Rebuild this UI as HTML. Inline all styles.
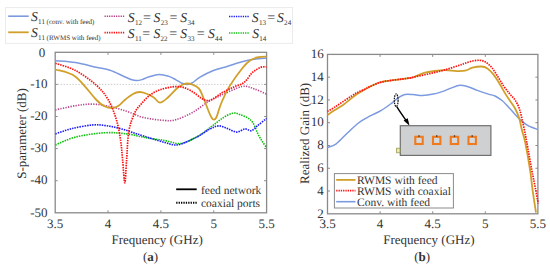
<!DOCTYPE html>
<html><head><meta charset="utf-8"><style>
html,body{margin:0;padding:0;background:#fff;}
svg{display:block;} text{text-rendering:geometricPrecision;}
</style></head><body>
<svg width="550" height="268" viewBox="0 0 550 268">
<rect width="550" height="268" fill="#fff"/>
<line x1="57.7" y1="84.40" x2="264.1" y2="84.40" stroke="#c4c4c4" stroke-width="0.9" stroke-dasharray="1.4 1.55"/>
<rect x="55.2" y="52.3" width="211.40" height="160.50" fill="none" stroke="#8a8a8a" stroke-width="1.3"/>
<line x1="108.05" y1="212.8" x2="108.05" y2="210.3" stroke="#8a8a8a" stroke-width="1"/>
<line x1="108.05" y1="52.3" x2="108.05" y2="54.8" stroke="#8a8a8a" stroke-width="1"/>
<line x1="160.90" y1="212.8" x2="160.90" y2="210.3" stroke="#8a8a8a" stroke-width="1"/>
<line x1="160.90" y1="52.3" x2="160.90" y2="54.8" stroke="#8a8a8a" stroke-width="1"/>
<line x1="213.75" y1="212.8" x2="213.75" y2="210.3" stroke="#8a8a8a" stroke-width="1"/>
<line x1="213.75" y1="52.3" x2="213.75" y2="54.8" stroke="#8a8a8a" stroke-width="1"/>
<line x1="55.2" y1="84.40" x2="57.7" y2="84.40" stroke="#8a8a8a" stroke-width="1"/>
<line x1="266.6" y1="84.40" x2="264.1" y2="84.40" stroke="#8a8a8a" stroke-width="1"/>
<line x1="55.2" y1="116.50" x2="57.7" y2="116.50" stroke="#8a8a8a" stroke-width="1"/>
<line x1="266.6" y1="116.50" x2="264.1" y2="116.50" stroke="#8a8a8a" stroke-width="1"/>
<line x1="55.2" y1="148.60" x2="57.7" y2="148.60" stroke="#8a8a8a" stroke-width="1"/>
<line x1="266.6" y1="148.60" x2="264.1" y2="148.60" stroke="#8a8a8a" stroke-width="1"/>
<line x1="55.2" y1="180.70" x2="57.7" y2="180.70" stroke="#8a8a8a" stroke-width="1"/>
<line x1="266.6" y1="180.70" x2="264.1" y2="180.70" stroke="#8a8a8a" stroke-width="1"/>
<path d="M55.50,144.90 C58.83,143.60 67.38,139.12 75.50,137.10 C83.62,135.08 95.65,133.33 104.20,132.80 C112.75,132.27 119.62,133.03 126.80,133.90 C133.98,134.77 140.93,136.90 147.30,138.00 C153.67,139.10 159.47,139.58 165.00,140.50 C170.53,141.42 175.18,144.10 180.50,143.50 C185.82,142.90 191.77,139.70 196.90,136.90 C202.03,134.10 207.12,129.77 211.30,126.70 C215.48,123.63 218.43,120.75 222.00,118.50 C225.57,116.25 229.70,113.85 232.70,113.20 C235.70,112.55 237.50,113.82 240.00,114.60 C242.50,115.38 245.78,116.83 247.70,117.90 C249.62,118.97 250.35,119.67 251.50,121.00 C252.65,122.33 253.52,123.73 254.60,125.90 C255.68,128.07 256.77,131.48 258.00,134.00 C259.23,136.52 260.58,138.73 262.00,141.00 C263.42,143.27 265.75,146.50 266.50,147.60" fill="none" stroke="#10c010" stroke-width="1.6" stroke-dasharray="1.5 1" stroke-linejoin="round"/>
<path d="M55.50,133.90 C58.15,133.03 65.32,130.18 71.40,128.70 C77.48,127.22 86.18,125.50 92.00,125.00 C97.82,124.50 101.52,125.08 106.30,125.70 C111.08,126.32 115.57,127.33 120.70,128.70 C125.83,130.07 129.72,131.58 137.10,133.90 C144.48,136.22 158.10,140.80 165.00,142.60 C171.90,144.40 173.18,145.65 178.50,144.70 C183.82,143.75 191.65,139.52 196.90,136.90 C202.15,134.28 206.30,130.83 210.00,129.00 C213.70,127.17 216.10,125.93 219.10,125.90 C222.10,125.87 225.05,127.77 228.00,128.80 C230.95,129.83 233.97,132.08 236.80,132.10 C239.63,132.12 242.58,129.13 245.00,128.90 C247.42,128.67 249.25,131.20 251.30,130.70 C253.35,130.20 254.77,127.95 257.30,125.90 C259.83,123.85 264.97,119.65 266.50,118.40" fill="none" stroke="#1a1aff" stroke-width="1.6" stroke-dasharray="1.5 1" stroke-linejoin="round"/>
<path d="M55.50,109.90 C58.83,109.20 69.42,106.67 75.50,105.70 C81.58,104.73 86.52,104.02 92.00,104.10 C97.48,104.18 102.60,105.00 108.40,106.20 C114.20,107.40 121.00,109.43 126.80,111.30 C132.60,113.17 136.83,115.87 143.20,117.40 C149.57,118.93 159.47,120.15 165.00,120.50 C170.53,120.85 171.77,120.87 176.40,119.50 C181.03,118.13 187.32,115.38 192.80,112.30 C198.28,109.22 204.50,103.87 209.30,101.00 C214.10,98.13 216.13,97.52 221.60,95.10 C227.07,92.68 236.63,87.52 242.10,86.50 C247.57,85.48 250.33,87.73 254.40,89.00 C258.47,90.27 264.48,93.25 266.50,94.10" fill="none" stroke="#b8408a" stroke-width="1.6" stroke-dasharray="1.25 1.3" stroke-linejoin="round"/>
<path d="M55.50,60.70 C58.83,61.00 68.75,61.42 75.50,62.50 C82.25,63.58 90.25,65.90 96.00,67.20 C101.75,68.50 105.50,68.83 110.00,70.30 C114.50,71.77 119.50,74.47 123.00,76.00 C126.50,77.53 128.75,78.73 131.00,79.50 C133.25,80.27 134.67,80.58 136.50,80.60 C138.33,80.62 140.00,80.20 142.00,79.60 C144.00,79.00 145.65,77.87 148.50,77.00 C151.35,76.13 155.70,74.50 159.10,74.40 C162.50,74.30 166.08,75.50 168.90,76.40 C171.72,77.30 173.82,78.65 176.00,79.80 C178.18,80.95 180.17,82.53 182.00,83.30 C183.83,84.07 185.33,84.45 187.00,84.40 C188.67,84.35 189.83,84.20 192.00,83.00 C194.17,81.80 196.43,79.28 200.00,77.20 C203.57,75.12 208.78,72.33 213.40,70.50 C218.02,68.67 222.93,67.67 227.70,66.20 C232.47,64.73 237.55,62.87 242.00,61.70 C246.45,60.53 250.32,59.78 254.40,59.20 C258.48,58.62 264.48,58.37 266.50,58.20" fill="none" stroke="#7c9ae0" stroke-width="1.5" stroke-linejoin="round"/>
<path d="M55.50,69.50 C58.83,70.70 68.75,71.70 75.50,76.70 C82.25,81.70 91.25,94.62 96.00,99.50 C100.75,104.38 101.25,104.55 104.00,106.00 C106.75,107.45 110.00,108.28 112.50,108.20 C115.00,108.12 116.95,106.87 119.00,105.50 C121.05,104.13 122.47,101.92 124.80,100.00 C127.13,98.08 130.55,95.33 133.00,94.00 C135.45,92.67 137.33,92.08 139.50,92.00 C141.67,91.92 143.67,92.63 146.00,93.50 C148.33,94.37 151.17,95.68 153.50,97.20 C155.83,98.72 157.55,102.60 160.00,102.60 C162.45,102.60 165.20,99.72 168.20,97.20 C171.20,94.68 175.15,89.75 178.00,87.50 C180.85,85.25 182.97,84.20 185.30,83.70 C187.63,83.20 189.72,83.68 192.00,84.50 C194.28,85.32 196.98,86.10 199.00,88.60 C201.02,91.10 202.52,95.77 204.10,99.50 C205.68,103.23 207.27,108.00 208.50,111.00 C209.73,114.00 210.62,116.07 211.50,117.50 C212.38,118.93 213.00,119.60 213.80,119.60 C214.60,119.60 215.43,119.18 216.30,117.50 C217.17,115.82 217.95,112.42 219.00,109.50 C220.05,106.58 220.80,103.93 222.60,100.00 C224.40,96.07 226.55,91.15 229.80,85.90 C233.05,80.65 238.68,72.77 242.10,68.50 C245.52,64.23 247.57,62.18 250.30,60.30 C253.03,58.42 255.80,57.82 258.50,57.20 C261.20,56.58 265.17,56.70 266.50,56.60" fill="none" stroke="#d1a02a" stroke-width="1.8" stroke-linejoin="round"/>
<path d="M55.50,63.30 C58.83,64.50 68.75,66.90 75.50,70.50 C82.25,74.10 90.52,79.98 96.00,84.90 C101.48,89.82 104.97,94.07 108.40,100.00 C111.83,105.93 114.55,113.67 116.60,120.50 C118.65,127.33 119.70,134.42 120.70,141.00 C121.70,147.58 121.92,153.03 122.60,160.00 C123.28,166.97 124.13,182.80 124.80,182.80 C125.47,182.80 125.92,168.67 126.60,160.00 C127.28,151.33 127.50,138.75 128.90,130.80 C130.30,122.85 132.95,116.77 135.00,112.30 C137.05,107.83 138.70,106.88 141.20,104.00 C143.70,101.12 146.87,97.37 150.00,95.00 C153.13,92.63 156.28,91.15 160.00,89.80 C163.72,88.45 168.53,87.33 172.30,86.90 C176.07,86.47 179.18,86.35 182.60,87.20 C186.02,88.05 189.73,90.20 192.80,92.00 C195.87,93.80 198.72,96.58 201.00,98.00 C203.28,99.42 204.75,100.20 206.50,100.50 C208.25,100.80 208.98,101.03 211.50,99.80 C214.02,98.57 217.87,95.25 221.60,93.10 C225.33,90.95 230.15,88.67 233.90,86.90 C237.65,85.13 241.03,84.88 244.10,82.50 C247.17,80.12 249.55,75.12 252.30,72.60 C255.05,70.08 258.23,68.37 260.60,67.40 C262.97,66.43 265.52,66.90 266.50,66.80" fill="none" stroke="#ff1010" stroke-width="1.7" stroke-dasharray="1.5 1" stroke-linejoin="round"/>
<text x="45.3" y="56.90" font-family="Liberation Serif" font-size="13" text-anchor="end" fill="#333333">0</text>
<text x="47.6" y="88.10" font-family="Liberation Serif" font-size="13" text-anchor="end" fill="#333333">-10</text>
<text x="47.6" y="120.20" font-family="Liberation Serif" font-size="13" text-anchor="end" fill="#333333">-20</text>
<text x="47.6" y="152.30" font-family="Liberation Serif" font-size="13" text-anchor="end" fill="#333333">-30</text>
<text x="47.6" y="184.40" font-family="Liberation Serif" font-size="13" text-anchor="end" fill="#333333">-40</text>
<text x="47.6" y="216.50" font-family="Liberation Serif" font-size="13" text-anchor="end" fill="#333333">-50</text>
<text x="55.20" y="228.3" font-family="Liberation Serif" font-size="13" text-anchor="middle" fill="#333333">3.5</text>
<text x="108.05" y="228.3" font-family="Liberation Serif" font-size="13" text-anchor="middle" fill="#333333">4</text>
<text x="160.90" y="228.3" font-family="Liberation Serif" font-size="13" text-anchor="middle" fill="#333333">4.5</text>
<text x="213.75" y="228.3" font-family="Liberation Serif" font-size="13" text-anchor="middle" fill="#333333">5</text>
<text x="266.60" y="228.3" font-family="Liberation Serif" font-size="13" text-anchor="middle" fill="#333333">5.5</text>
<text x="157.1" y="243.8" font-family="Liberation Serif" font-size="13" text-anchor="middle" fill="#333333">Frequency (GHz)</text>
<text x="150.6" y="260.9" font-family="Liberation Serif" font-size="13" text-anchor="middle" fill="#333333">(<tspan font-weight="bold">a</tspan>)</text>
<text transform="translate(26,133.5) rotate(-90)" font-family="Liberation Serif" font-size="13" text-anchor="middle" fill="#333333">S-parameter (dB)</text>
<line x1="176.2" y1="189.3" x2="196.7" y2="189.3" stroke="#000" stroke-width="1.8"/>
<line x1="176.2" y1="202.8" x2="196.7" y2="202.8" stroke="#000" stroke-width="1.9" stroke-dasharray="1.3 1.1"/>
<text x="201" y="193.6" font-family="Liberation Serif" font-size="11.5" fill="#333333">feed network</text>
<text x="201" y="206.6" font-family="Liberation Serif" font-size="11.5" fill="#333333">coaxial ports</text>
<rect x="5.5" y="7.6" width="287" height="35.8" fill="none" stroke="#ebebeb" stroke-width="1"/>
<line x1="8.2" y1="16.2" x2="28.7" y2="16.2" stroke="#7c9ae0" stroke-width="1.6"/>
<line x1="8.2" y1="32.3" x2="28.7" y2="32.3" stroke="#d1a02a" stroke-width="1.8"/>
<line x1="104.5" y1="16.3" x2="124.5" y2="16.3" stroke="#b8408a" stroke-width="1.5" stroke-dasharray="1.3 1"/>
<line x1="104.5" y1="32.6" x2="124.5" y2="32.6" stroke="#ff1010" stroke-width="1.6" stroke-dasharray="1.3 1"/>
<line x1="229" y1="16.4" x2="249" y2="16.4" stroke="#1a1aff" stroke-width="1.5" stroke-dasharray="1.3 1"/>
<line x1="229" y1="33" x2="249" y2="33" stroke="#10c010" stroke-width="1.5" stroke-dasharray="1.3 1"/>
<text x="31.00" y="21.00" font-family="Liberation Serif" font-style="italic" font-size="13.6" fill="#333333">S</text><text x="38.10" y="23.90" font-family="Liberation Serif" font-size="7.1" fill="#333333">11</text>
<text x="46.6" y="23.90" font-family="Liberation Serif" font-size="7.05" fill="#333333">(conv. with feed)</text>
<text x="31.00" y="37.20" font-family="Liberation Serif" font-style="italic" font-size="13.6" fill="#333333">S</text><text x="38.10" y="40.10" font-family="Liberation Serif" font-size="7.1" fill="#333333">11</text>
<text x="46.6" y="40.10" font-family="Liberation Serif" font-size="7.05" fill="#333333">(RWMS with feed)</text>
<text x="127.80" y="22.10" font-family="Liberation Serif" font-style="italic" font-size="13.6" fill="#333333">S</text><text x="134.90" y="25.00" font-family="Liberation Serif" font-size="7.1" fill="#333333">12</text>
<text x="143.00" y="22.10" font-family="Liberation Serif" font-size="14" fill="#333333">=</text>
<text x="153.60" y="22.10" font-family="Liberation Serif" font-style="italic" font-size="13.6" fill="#333333">S</text><text x="160.70" y="25.00" font-family="Liberation Serif" font-size="7.1" fill="#333333">23</text>
<text x="169.40" y="22.10" font-family="Liberation Serif" font-size="14" fill="#333333">=</text>
<text x="180.30" y="22.10" font-family="Liberation Serif" font-style="italic" font-size="13.6" fill="#333333">S</text><text x="187.40" y="25.00" font-family="Liberation Serif" font-size="7.1" fill="#333333">34</text>
<text x="127.80" y="38.30" font-family="Liberation Serif" font-style="italic" font-size="13.6" fill="#333333">S</text><text x="134.90" y="41.20" font-family="Liberation Serif" font-size="7.1" fill="#333333">11</text>
<text x="142.20" y="38.30" font-family="Liberation Serif" font-size="14" fill="#333333">=</text>
<text x="153.40" y="38.30" font-family="Liberation Serif" font-style="italic" font-size="13.6" fill="#333333">S</text><text x="160.50" y="41.20" font-family="Liberation Serif" font-size="7.1" fill="#333333">22</text>
<text x="169.20" y="38.30" font-family="Liberation Serif" font-size="14" fill="#333333">=</text>
<text x="180.30" y="38.30" font-family="Liberation Serif" font-style="italic" font-size="13.6" fill="#333333">S</text><text x="187.40" y="41.20" font-family="Liberation Serif" font-size="7.1" fill="#333333">33</text>
<text x="196.80" y="38.30" font-family="Liberation Serif" font-size="14" fill="#333333">=</text>
<text x="208.00" y="38.30" font-family="Liberation Serif" font-style="italic" font-size="13.6" fill="#333333">S</text><text x="215.10" y="41.20" font-family="Liberation Serif" font-size="7.1" fill="#333333">44</text>
<text x="251.80" y="22.10" font-family="Liberation Serif" font-style="italic" font-size="13.6" fill="#333333">S</text><text x="258.90" y="25.00" font-family="Liberation Serif" font-size="7.1" fill="#333333">13</text>
<text x="267.20" y="22.10" font-family="Liberation Serif" font-size="14" fill="#333333">=</text>
<text x="277.00" y="22.10" font-family="Liberation Serif" font-style="italic" font-size="13.6" fill="#333333">S</text><text x="284.10" y="25.00" font-family="Liberation Serif" font-size="7.1" fill="#333333">24</text>
<text x="252.20" y="38.30" font-family="Liberation Serif" font-style="italic" font-size="13.6" fill="#333333">S</text><text x="259.30" y="41.20" font-family="Liberation Serif" font-size="7.1" fill="#333333">14</text>
<rect x="327.5" y="54.4" width="210.40" height="159.40" fill="none" stroke="#8a8a8a" stroke-width="1.3"/>
<line x1="380.10" y1="213.8" x2="380.10" y2="211.3" stroke="#8a8a8a" stroke-width="1"/>
<line x1="380.10" y1="54.4" x2="380.10" y2="56.9" stroke="#8a8a8a" stroke-width="1"/>
<line x1="432.70" y1="213.8" x2="432.70" y2="211.3" stroke="#8a8a8a" stroke-width="1"/>
<line x1="432.70" y1="54.4" x2="432.70" y2="56.9" stroke="#8a8a8a" stroke-width="1"/>
<line x1="485.30" y1="213.8" x2="485.30" y2="211.3" stroke="#8a8a8a" stroke-width="1"/>
<line x1="485.30" y1="54.4" x2="485.30" y2="56.9" stroke="#8a8a8a" stroke-width="1"/>
<line x1="327.5" y1="77.17" x2="330.0" y2="77.17" stroke="#8a8a8a" stroke-width="1"/>
<line x1="537.9" y1="77.17" x2="535.4" y2="77.17" stroke="#8a8a8a" stroke-width="1"/>
<line x1="327.5" y1="99.94" x2="330.0" y2="99.94" stroke="#8a8a8a" stroke-width="1"/>
<line x1="537.9" y1="99.94" x2="535.4" y2="99.94" stroke="#8a8a8a" stroke-width="1"/>
<line x1="327.5" y1="122.71" x2="330.0" y2="122.71" stroke="#8a8a8a" stroke-width="1"/>
<line x1="537.9" y1="122.71" x2="535.4" y2="122.71" stroke="#8a8a8a" stroke-width="1"/>
<line x1="327.5" y1="145.49" x2="330.0" y2="145.49" stroke="#8a8a8a" stroke-width="1"/>
<line x1="537.9" y1="145.49" x2="535.4" y2="145.49" stroke="#8a8a8a" stroke-width="1"/>
<line x1="327.5" y1="168.26" x2="330.0" y2="168.26" stroke="#8a8a8a" stroke-width="1"/>
<line x1="537.9" y1="168.26" x2="535.4" y2="168.26" stroke="#8a8a8a" stroke-width="1"/>
<line x1="327.5" y1="191.03" x2="330.0" y2="191.03" stroke="#8a8a8a" stroke-width="1"/>
<line x1="537.9" y1="191.03" x2="535.4" y2="191.03" stroke="#8a8a8a" stroke-width="1"/>
<path d="M327.50,147.60 C328.95,146.97 332.88,146.23 336.20,143.80 C339.52,141.37 343.68,136.47 347.40,133.00 C351.12,129.53 354.78,125.80 358.50,123.00 C362.22,120.20 365.97,118.25 369.70,116.20 C373.43,114.15 377.17,112.93 380.90,110.70 C384.63,108.47 389.12,105.02 392.10,102.80 C395.08,100.58 396.65,98.78 398.80,97.40 C400.95,96.02 402.63,94.97 405.00,94.50 C407.37,94.03 410.12,94.42 413.00,94.60 C415.88,94.78 418.90,95.68 422.30,95.60 C425.70,95.52 429.62,94.93 433.40,94.10 C437.18,93.27 440.80,92.05 445.00,90.60 C449.20,89.15 454.77,86.05 458.60,85.40 C462.43,84.75 464.88,85.87 468.00,86.70 C471.12,87.53 473.90,89.17 477.30,90.40 C480.70,91.63 485.45,93.17 488.40,94.10 C491.35,95.03 492.73,94.93 495.00,96.00 C497.27,97.07 499.83,98.75 502.00,100.50 C504.17,102.25 505.82,104.18 508.00,106.50 C510.18,108.82 512.65,111.83 515.10,114.40 C517.55,116.97 520.38,119.93 522.70,121.90 C525.02,123.87 526.48,124.93 529.00,126.20 C531.52,127.47 536.33,128.95 537.80,129.50" fill="none" stroke="#7c9ae0" stroke-width="1.5" stroke-linejoin="round"/>
<path d="M327.50,115.10 C328.58,114.35 331.42,112.28 334.00,110.60 C336.58,108.92 340.00,107.12 343.00,105.00 C346.00,102.88 349.50,99.83 352.00,97.90 C354.50,95.97 355.83,94.83 358.00,93.40 C360.17,91.97 363.17,90.35 365.00,89.30 C366.83,88.25 366.60,88.23 369.00,87.10 C371.40,85.97 375.92,83.58 379.40,82.50 C382.88,81.42 386.17,81.17 389.90,80.60 C393.63,80.03 398.33,79.55 401.80,79.10 C405.27,78.65 408.50,78.32 410.70,77.90 C412.90,77.48 412.78,77.43 415.00,76.60 C417.22,75.77 420.75,73.83 424.00,72.90 C427.25,71.97 431.02,71.45 434.50,71.00 C437.98,70.55 441.18,70.18 444.90,70.20 C448.62,70.22 453.45,71.02 456.80,71.10 C460.15,71.18 462.38,71.27 465.00,70.70 C467.62,70.13 469.77,68.40 472.50,67.70 C475.23,67.00 478.92,66.38 481.40,66.50 C483.88,66.62 485.40,67.08 487.40,68.40 C489.40,69.72 491.42,71.92 493.40,74.40 C495.38,76.88 497.35,80.13 499.30,83.30 C501.25,86.47 503.30,90.45 505.10,93.40 C506.90,96.35 508.43,98.48 510.10,101.00 C511.77,103.52 513.57,105.57 515.10,108.50 C516.63,111.43 518.17,115.02 519.30,118.60 C520.43,122.18 520.93,126.13 521.90,130.00 C522.87,133.87 523.73,135.13 525.10,141.80 C526.47,148.47 528.85,161.95 530.10,170.00 C531.35,178.05 531.62,182.98 532.60,190.10 C533.58,197.22 535.43,208.93 536.00,212.70" fill="none" stroke="#d1a02a" stroke-width="1.8" stroke-linejoin="round"/>
<path d="M327.50,111.30 C328.58,110.68 331.42,109.22 334.00,107.60 C336.58,105.98 340.00,103.58 343.00,101.60 C346.00,99.62 349.50,97.27 352.00,95.70 C354.50,94.13 355.83,93.28 358.00,92.20 C360.17,91.12 363.17,90.05 365.00,89.20 C366.83,88.35 366.60,88.20 369.00,87.10 C371.40,86.00 375.92,83.68 379.40,82.60 C382.88,81.52 386.17,81.18 389.90,80.60 C393.63,80.02 398.33,79.55 401.80,79.10 C405.27,78.65 408.50,78.28 410.70,77.90 C412.90,77.52 411.78,77.52 415.00,76.80 C418.22,76.08 425.02,74.75 430.00,73.60 C434.98,72.45 439.93,71.32 444.90,69.90 C449.87,68.48 456.45,66.20 459.80,65.10 C463.15,64.00 462.88,63.98 465.00,63.30 C467.12,62.62 470.00,61.50 472.50,61.00 C475.00,60.50 477.75,60.07 480.00,60.30 C482.25,60.53 484.02,61.17 486.00,62.40 C487.98,63.63 489.93,65.33 491.90,67.70 C493.87,70.07 495.85,73.55 497.80,76.60 C499.75,79.65 501.68,83.20 503.60,86.00 C505.52,88.80 507.38,91.05 509.30,93.40 C511.22,95.75 513.43,97.58 515.10,100.10 C516.77,102.62 518.17,105.42 519.30,108.50 C520.43,111.58 521.05,115.02 521.90,118.60 C522.75,122.18 523.60,126.13 524.40,130.00 C525.20,133.87 525.47,135.13 526.70,141.80 C527.93,148.47 530.40,162.50 531.80,170.00 C533.20,177.50 534.03,181.22 535.10,186.80 C536.17,192.38 537.68,200.72 538.20,203.50" fill="none" stroke="#ff1010" stroke-width="1.7" stroke-dasharray="1.5 1" stroke-linejoin="round"/>
<text x="323.8" y="58.10" font-family="Liberation Serif" font-size="13" text-anchor="end" fill="#333333">16</text>
<text x="323.8" y="80.87" font-family="Liberation Serif" font-size="13" text-anchor="end" fill="#333333">14</text>
<text x="323.8" y="103.64" font-family="Liberation Serif" font-size="13" text-anchor="end" fill="#333333">12</text>
<text x="323.8" y="126.41" font-family="Liberation Serif" font-size="13" text-anchor="end" fill="#333333">10</text>
<text x="323.8" y="149.19" font-family="Liberation Serif" font-size="13" text-anchor="end" fill="#333333">8</text>
<text x="323.8" y="171.96" font-family="Liberation Serif" font-size="13" text-anchor="end" fill="#333333">6</text>
<text x="323.8" y="194.73" font-family="Liberation Serif" font-size="13" text-anchor="end" fill="#333333">4</text>
<text x="323.8" y="217.50" font-family="Liberation Serif" font-size="13" text-anchor="end" fill="#333333">2</text>
<text x="327.50" y="228.3" font-family="Liberation Serif" font-size="13" text-anchor="middle" fill="#333333">3.5</text>
<text x="380.10" y="228.3" font-family="Liberation Serif" font-size="13" text-anchor="middle" fill="#333333">4</text>
<text x="432.70" y="228.3" font-family="Liberation Serif" font-size="13" text-anchor="middle" fill="#333333">4.5</text>
<text x="485.30" y="228.3" font-family="Liberation Serif" font-size="13" text-anchor="middle" fill="#333333">5</text>
<text x="537.90" y="228.3" font-family="Liberation Serif" font-size="13" text-anchor="middle" fill="#333333">5.5</text>
<text x="428.9" y="243.8" font-family="Liberation Serif" font-size="13" text-anchor="middle" fill="#333333">Frequency (GHz)</text>
<text x="422.2" y="260.9" font-family="Liberation Serif" font-size="13" text-anchor="middle" fill="#333333">(<tspan font-weight="bold">b</tspan>)</text>
<text transform="translate(309,133.4) rotate(-90)" font-family="Liberation Serif" font-size="13" text-anchor="middle" fill="#333333">Realized Gain (dB)</text>
<rect x="334.4" y="173.6" width="119" height="34.4" fill="#fff" stroke="#8a8a8a" stroke-width="1"/>
<line x1="336.2" y1="179.9" x2="355.5" y2="179.9" stroke="#d1a02a" stroke-width="1.8"/>
<line x1="336.2" y1="190.6" x2="355.5" y2="190.6" stroke="#ff1010" stroke-width="1.6" stroke-dasharray="1.3 1"/>
<line x1="336.2" y1="201.7" x2="355.5" y2="201.7" stroke="#7c9ae0" stroke-width="1.6"/>
<text x="357" y="183.7" font-family="Liberation Serif" font-size="11.5" fill="#333333">RWMS with feed</text>
<text x="357" y="194.6" font-family="Liberation Serif" font-size="11.5" fill="#333333">RWMS with coaxial</text>
<text x="357" y="205.5" font-family="Liberation Serif" font-size="11.5" fill="#333333">Conv. with feed</text>
<ellipse cx="396.2" cy="100.2" rx="1.9" ry="6.3" fill="none" stroke="#111" stroke-width="1.2" stroke-dasharray="1.6 0.8"/>
<path d="M396.8,106.6 Q400,112 406.4,120.8" fill="none" stroke="#000" stroke-width="1.4"/>
<path d="M409.6,125.8 L403.6,120.6 L407.7,118.2 Z" fill="#000"/>
<rect x="400.3" y="125.7" width="90.6" height="29.7" fill="#cfd0d2" stroke="#707070" stroke-width="1.2"/>
<rect x="396.6" y="148.2" width="3.4" height="4.6" fill="#ecebb0" stroke="#9a9a50" stroke-width="0.8"/>
<rect x="415.30" y="136.8" width="7.4" height="7.2" fill="#d3d9df" stroke="#f07a1e" stroke-width="2.1"/>
<rect x="418.30" y="135.4" width="1.4" height="1.2" fill="#222"/>
<rect x="433.00" y="136.8" width="7.4" height="7.2" fill="#d3d9df" stroke="#f07a1e" stroke-width="2.1"/>
<rect x="436.00" y="135.4" width="1.4" height="1.2" fill="#222"/>
<rect x="450.80" y="136.8" width="7.4" height="7.2" fill="#d3d9df" stroke="#f07a1e" stroke-width="2.1"/>
<rect x="453.80" y="135.4" width="1.4" height="1.2" fill="#222"/>
<rect x="468.50" y="136.8" width="7.4" height="7.2" fill="#d3d9df" stroke="#f07a1e" stroke-width="2.1"/>
<rect x="471.50" y="135.4" width="1.4" height="1.2" fill="#222"/>
</svg>
</body></html>
